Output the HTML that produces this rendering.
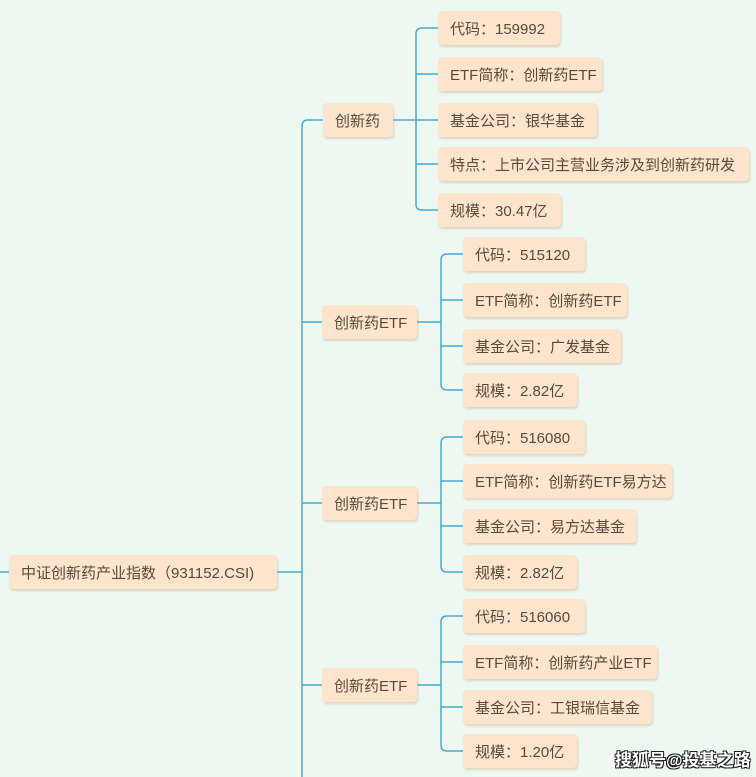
<!DOCTYPE html>
<html><head><meta charset="utf-8">
<style>
*{margin:0;padding:0;box-sizing:border-box}
body{width:756px;height:777px;overflow:hidden;background:#edf8f3;font-family:"Liberation Sans","Noto Sans CJK SC",sans-serif;position:relative}
.n{position:absolute;height:34px;line-height:37px;background:#fde4cd;border-radius:4px;color:#5b4a3c;font-size:15px;padding-left:12px;box-shadow:1px 2px 2px rgba(200,170,140,0.45);white-space:nowrap;overflow:visible}
svg{position:absolute;left:0;top:0}
.wm{position:absolute;left:615px;top:746px;font-size:17px;font-weight:bold;color:#fff;text-shadow:1px 1px 0 #222,-1px -1px 0 #222,1px -1px 0 #222,-1px 1px 0 #222}
</style></head><body>
<svg width="756" height="777" fill="none" stroke="#4ba7cf" stroke-width="1.5">
<path d="M0 572 H9"/>
<path d="M277 572 H302"/>
<path d="M302 777 V126 Q302 120 308 120 H323"/>
<path d="M302 322 H323 M302 503 H323 M302 685 H323"/>
<path d="M393 120 H416"/>
<path d="M438 28 H422 Q416 28 416 34 V204 Q416 210 422 210 H438 M416 74 H438 M416 120 H438 M416 164 H438"/>
<path d="M417 322 H441"/>
<path d="M463 254 H447 Q441 254 441 260 V384 Q441 390 447 390 H463 M441 300 H463 M441 346 H463"/>
<path d="M417 503 H441"/>
<path d="M463 437 H447 Q441 437 441 443 V566 Q441 572 447 572 H463 M441 481 H463 M441 526 H463"/>
<path d="M417 685 H441"/>
<path d="M463 616 H447 Q441 616 441 622 V745 Q441 751 447 751 H463 M441 662 H463 M441 707 H463"/>
</svg>
<div class="n" style="left:9px;top:555px;width:268px">中证创新药产业指数（931152.CSI)</div>
<div class="n" style="left:323px;top:103px;width:70px">创新药</div>
<div class="n" style="left:322px;top:305px;width:95px">创新药ETF</div>
<div class="n" style="left:322px;top:486px;width:95px">创新药ETF</div>
<div class="n" style="left:322px;top:668px;width:95px">创新药ETF</div>

<div class="n" style="left:438px;top:11px;width:122px">代码：159992</div>
<div class="n" style="left:438px;top:57px;width:164px">ETF简称：创新药ETF</div>
<div class="n" style="left:438px;top:103px;width:159px">基金公司：银华基金</div>
<div class="n" style="left:438px;top:147px;width:311px">特点：上市公司主营业务涉及到创新药研发</div>
<div class="n" style="left:438px;top:193px;width:123px">规模：30.47亿</div>

<div class="n" style="left:463px;top:237px;width:122px">代码：515120</div>
<div class="n" style="left:463px;top:283px;width:164px">ETF简称：创新药ETF</div>
<div class="n" style="left:463px;top:329px;width:158px">基金公司：广发基金</div>
<div class="n" style="left:463px;top:373px;width:114px">规模：2.82亿</div>

<div class="n" style="left:463px;top:420px;width:122px">代码：516080</div>
<div class="n" style="left:463px;top:464px;width:209px">ETF简称：创新药ETF易方达</div>
<div class="n" style="left:463px;top:509px;width:173px">基金公司：易方达基金</div>
<div class="n" style="left:463px;top:555px;width:114px">规模：2.82亿</div>

<div class="n" style="left:463px;top:599px;width:122px">代码：516060</div>
<div class="n" style="left:463px;top:645px;width:194px">ETF简称：创新药产业ETF</div>
<div class="n" style="left:463px;top:690px;width:189px">基金公司：工银瑞信基金</div>
<div class="n" style="left:463px;top:734px;width:114px">规模：1.20亿</div>

<div class="wm">搜狐号@投基之路</div>
</body></html>
